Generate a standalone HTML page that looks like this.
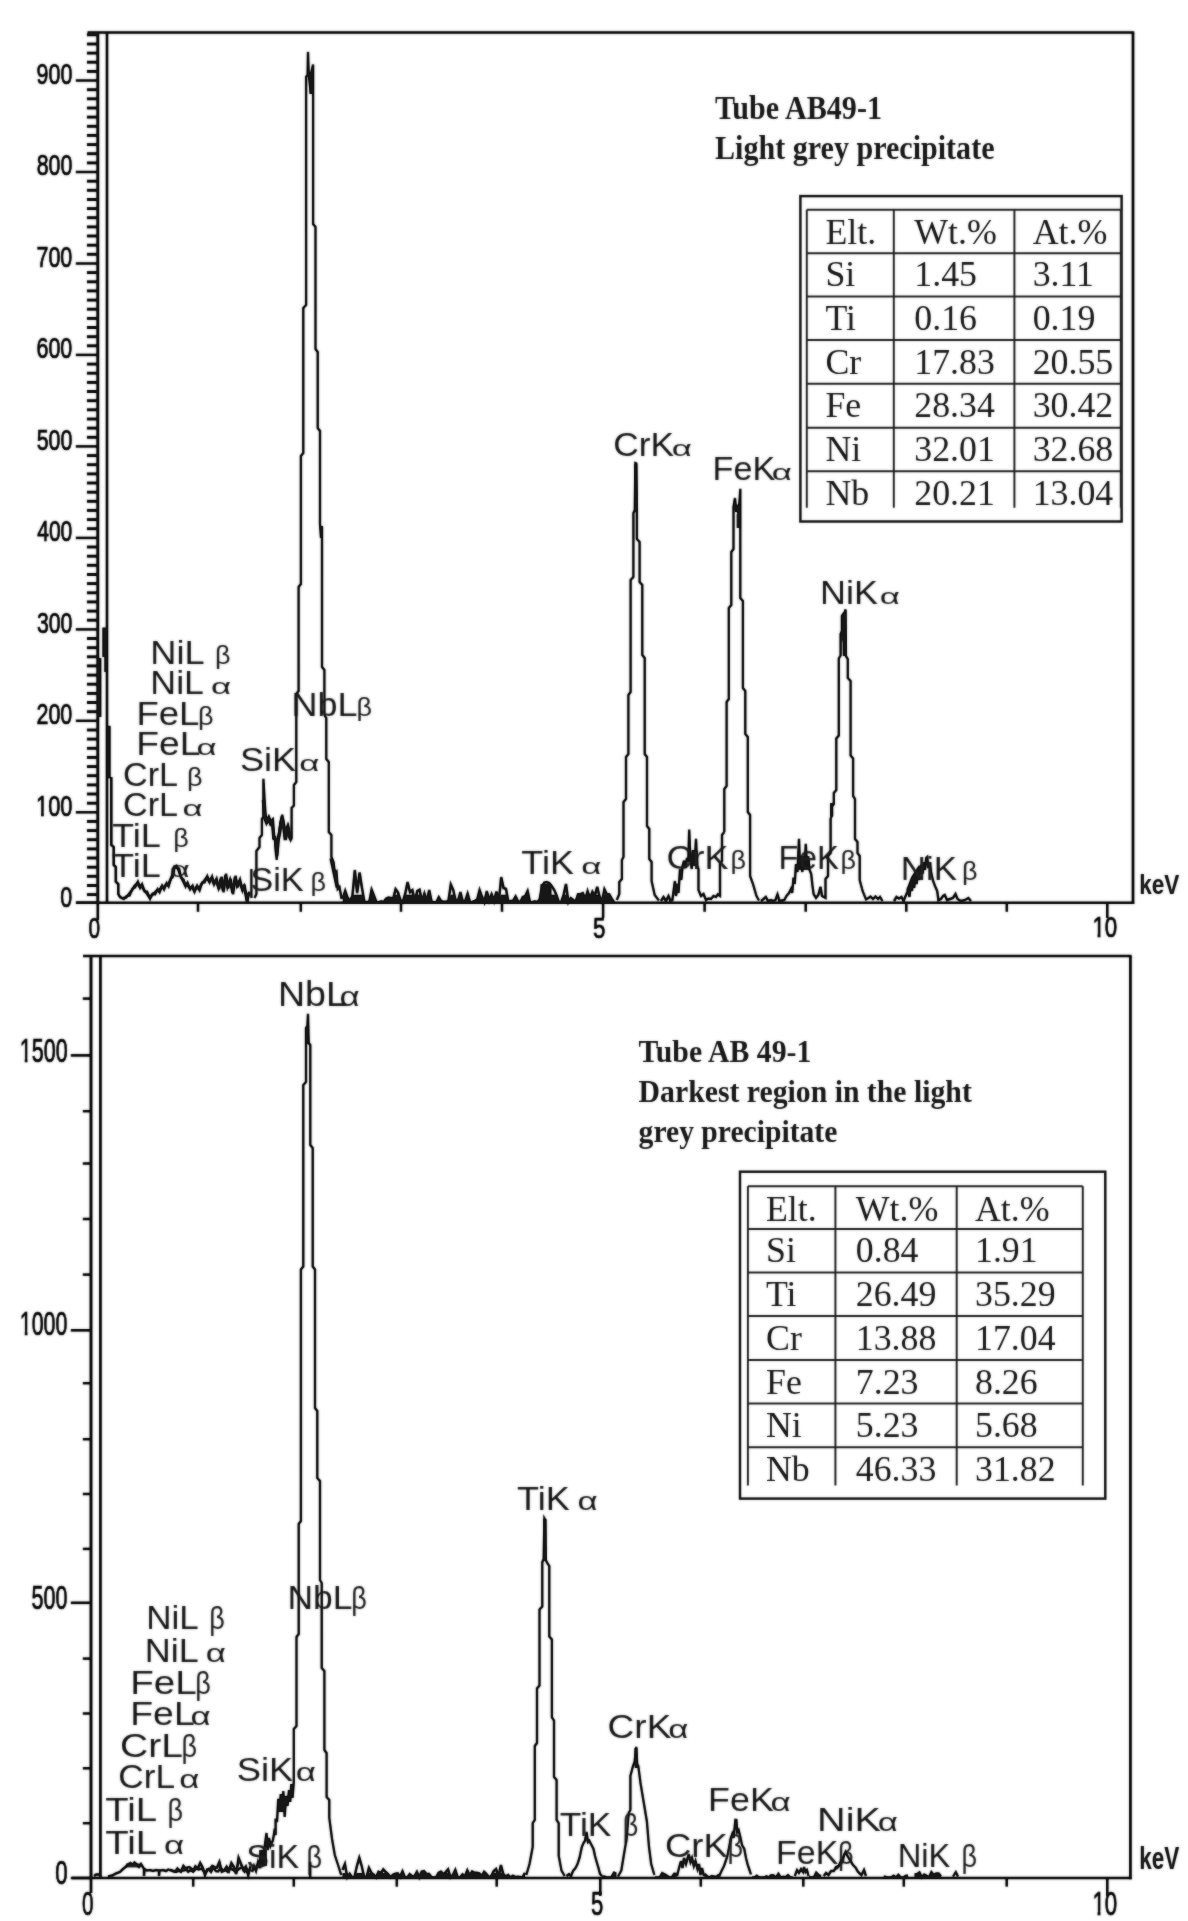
<!DOCTYPE html>
<html lang="en"><head><meta charset="utf-8"><title>EDS spectra - Tube AB49-1</title>
<style>
html,body{margin:0;padding:0;background:#fff;}
body{width:1188px;height:1921px;overflow:hidden;font-family:"Liberation Sans",sans-serif;}
svg{display:block;}
text{fill:#161616;}
.lb{fill:#1c1c1c;}
.ax{stroke:#161616;stroke-width:0.7px;}
.ax3{fill:#222;}
</style></head>
<body>
<svg width="1188" height="1921" viewBox="0 0 1188 1921">
<defs>
<filter id="soft" x="0" y="0" width="1188" height="1921" filterUnits="userSpaceOnUse"><feGaussianBlur stdDeviation="0.8" result="b"/><feComposite in="SourceGraphic" in2="b" operator="arithmetic" k1="0" k2="0.55" k3="0.6" k4="0"/></filter>
<filter id="soft2" x="0" y="0" width="1188" height="1921" filterUnits="userSpaceOnUse"><feGaussianBlur stdDeviation="0.8" result="b"/><feComposite in="SourceGraphic" in2="b" operator="arithmetic" k1="0" k2="0.6" k3="0.4" k4="0"/></filter>
<filter id="soft3" x="0" y="0" width="1188" height="1921" filterUnits="userSpaceOnUse"><feGaussianBlur stdDeviation="0.8" result="b"/><feComposite in="SourceGraphic" in2="b" operator="arithmetic" k1="0" k2="0.5" k3="0.55" k4="0"/></filter>
</defs>
<rect x="0" y="0" width="1188" height="1921" fill="#fff"/>
<g filter="url(#soft)">
<line x1="87.5" y1="32.5" x2="1134.2" y2="32.5" stroke="#141414" stroke-width="2.50"/>
<line x1="1133.0" y1="32.5" x2="1133.0" y2="903.9" stroke="#141414" stroke-width="2.70"/>
<line x1="76.0" y1="902.7" x2="1134.2" y2="902.7" stroke="#141414" stroke-width="2.40"/>
<line x1="97.8" y1="32.5" x2="97.8" y2="902.7" stroke="#141414" stroke-width="2.90"/>
<line x1="107.0" y1="32.5" x2="107.0" y2="902.7" stroke="#141414" stroke-width="2.60"/>
<line x1="75.8" y1="902.7" x2="97.8" y2="902.7" stroke="#141414" stroke-width="2.50"/>
<line x1="86.9" y1="894.6" x2="97.8" y2="894.6" stroke="#141414" stroke-width="2.90"/>
<line x1="86.9" y1="885.5" x2="97.8" y2="885.5" stroke="#141414" stroke-width="2.90"/>
<line x1="86.9" y1="876.3" x2="97.8" y2="876.3" stroke="#141414" stroke-width="2.90"/>
<line x1="86.9" y1="867.2" x2="97.8" y2="867.2" stroke="#141414" stroke-width="2.90"/>
<line x1="86.9" y1="858.0" x2="97.8" y2="858.0" stroke="#141414" stroke-width="2.90"/>
<line x1="86.9" y1="848.9" x2="97.8" y2="848.9" stroke="#141414" stroke-width="2.90"/>
<line x1="86.9" y1="839.7" x2="97.8" y2="839.7" stroke="#141414" stroke-width="2.90"/>
<line x1="86.9" y1="830.6" x2="97.8" y2="830.6" stroke="#141414" stroke-width="2.90"/>
<line x1="86.9" y1="821.4" x2="97.8" y2="821.4" stroke="#141414" stroke-width="2.90"/>
<line x1="75.8" y1="812.3" x2="97.8" y2="812.3" stroke="#141414" stroke-width="2.50"/>
<line x1="86.9" y1="803.2" x2="97.8" y2="803.2" stroke="#141414" stroke-width="2.90"/>
<line x1="86.9" y1="794.0" x2="97.8" y2="794.0" stroke="#141414" stroke-width="2.90"/>
<line x1="86.9" y1="784.9" x2="97.8" y2="784.9" stroke="#141414" stroke-width="2.90"/>
<line x1="86.9" y1="775.7" x2="97.8" y2="775.7" stroke="#141414" stroke-width="2.90"/>
<line x1="86.9" y1="766.6" x2="97.8" y2="766.6" stroke="#141414" stroke-width="2.90"/>
<line x1="86.9" y1="757.4" x2="97.8" y2="757.4" stroke="#141414" stroke-width="2.90"/>
<line x1="86.9" y1="748.3" x2="97.8" y2="748.3" stroke="#141414" stroke-width="2.90"/>
<line x1="86.9" y1="739.1" x2="97.8" y2="739.1" stroke="#141414" stroke-width="2.90"/>
<line x1="86.9" y1="730.0" x2="97.8" y2="730.0" stroke="#141414" stroke-width="2.90"/>
<line x1="75.8" y1="720.8" x2="97.8" y2="720.8" stroke="#141414" stroke-width="2.50"/>
<line x1="86.9" y1="711.7" x2="97.8" y2="711.7" stroke="#141414" stroke-width="2.90"/>
<line x1="86.9" y1="702.5" x2="97.8" y2="702.5" stroke="#141414" stroke-width="2.90"/>
<line x1="86.9" y1="693.4" x2="97.8" y2="693.4" stroke="#141414" stroke-width="2.90"/>
<line x1="86.9" y1="684.2" x2="97.8" y2="684.2" stroke="#141414" stroke-width="2.90"/>
<line x1="86.9" y1="675.1" x2="97.8" y2="675.1" stroke="#141414" stroke-width="2.90"/>
<line x1="86.9" y1="665.9" x2="97.8" y2="665.9" stroke="#141414" stroke-width="2.90"/>
<line x1="86.9" y1="656.8" x2="97.8" y2="656.8" stroke="#141414" stroke-width="2.90"/>
<line x1="86.9" y1="647.7" x2="97.8" y2="647.7" stroke="#141414" stroke-width="2.90"/>
<line x1="86.9" y1="638.5" x2="97.8" y2="638.5" stroke="#141414" stroke-width="2.90"/>
<line x1="75.8" y1="629.4" x2="97.8" y2="629.4" stroke="#141414" stroke-width="2.50"/>
<line x1="86.9" y1="620.2" x2="97.8" y2="620.2" stroke="#141414" stroke-width="2.90"/>
<line x1="86.9" y1="611.1" x2="97.8" y2="611.1" stroke="#141414" stroke-width="2.90"/>
<line x1="86.9" y1="601.9" x2="97.8" y2="601.9" stroke="#141414" stroke-width="2.90"/>
<line x1="86.9" y1="592.8" x2="97.8" y2="592.8" stroke="#141414" stroke-width="2.90"/>
<line x1="86.9" y1="583.6" x2="97.8" y2="583.6" stroke="#141414" stroke-width="2.90"/>
<line x1="86.9" y1="574.5" x2="97.8" y2="574.5" stroke="#141414" stroke-width="2.90"/>
<line x1="86.9" y1="565.3" x2="97.8" y2="565.3" stroke="#141414" stroke-width="2.90"/>
<line x1="86.9" y1="556.2" x2="97.8" y2="556.2" stroke="#141414" stroke-width="2.90"/>
<line x1="86.9" y1="547.0" x2="97.8" y2="547.0" stroke="#141414" stroke-width="2.90"/>
<line x1="75.8" y1="537.9" x2="97.8" y2="537.9" stroke="#141414" stroke-width="2.50"/>
<line x1="86.9" y1="528.7" x2="97.8" y2="528.7" stroke="#141414" stroke-width="2.90"/>
<line x1="86.9" y1="519.6" x2="97.8" y2="519.6" stroke="#141414" stroke-width="2.90"/>
<line x1="86.9" y1="510.4" x2="97.8" y2="510.4" stroke="#141414" stroke-width="2.90"/>
<line x1="86.9" y1="501.3" x2="97.8" y2="501.3" stroke="#141414" stroke-width="2.90"/>
<line x1="86.9" y1="492.2" x2="97.8" y2="492.2" stroke="#141414" stroke-width="2.90"/>
<line x1="86.9" y1="483.0" x2="97.8" y2="483.0" stroke="#141414" stroke-width="2.90"/>
<line x1="86.9" y1="473.9" x2="97.8" y2="473.9" stroke="#141414" stroke-width="2.90"/>
<line x1="86.9" y1="464.7" x2="97.8" y2="464.7" stroke="#141414" stroke-width="2.90"/>
<line x1="86.9" y1="455.6" x2="97.8" y2="455.6" stroke="#141414" stroke-width="2.90"/>
<line x1="75.8" y1="446.4" x2="97.8" y2="446.4" stroke="#141414" stroke-width="2.50"/>
<line x1="86.9" y1="437.3" x2="97.8" y2="437.3" stroke="#141414" stroke-width="2.90"/>
<line x1="86.9" y1="428.1" x2="97.8" y2="428.1" stroke="#141414" stroke-width="2.90"/>
<line x1="86.9" y1="419.0" x2="97.8" y2="419.0" stroke="#141414" stroke-width="2.90"/>
<line x1="86.9" y1="409.8" x2="97.8" y2="409.8" stroke="#141414" stroke-width="2.90"/>
<line x1="86.9" y1="400.7" x2="97.8" y2="400.7" stroke="#141414" stroke-width="2.90"/>
<line x1="86.9" y1="391.5" x2="97.8" y2="391.5" stroke="#141414" stroke-width="2.90"/>
<line x1="86.9" y1="382.4" x2="97.8" y2="382.4" stroke="#141414" stroke-width="2.90"/>
<line x1="86.9" y1="373.2" x2="97.8" y2="373.2" stroke="#141414" stroke-width="2.90"/>
<line x1="86.9" y1="364.1" x2="97.8" y2="364.1" stroke="#141414" stroke-width="2.90"/>
<line x1="75.8" y1="354.9" x2="97.8" y2="354.9" stroke="#141414" stroke-width="2.50"/>
<line x1="86.9" y1="345.8" x2="97.8" y2="345.8" stroke="#141414" stroke-width="2.90"/>
<line x1="86.9" y1="336.7" x2="97.8" y2="336.7" stroke="#141414" stroke-width="2.90"/>
<line x1="86.9" y1="327.5" x2="97.8" y2="327.5" stroke="#141414" stroke-width="2.90"/>
<line x1="86.9" y1="318.4" x2="97.8" y2="318.4" stroke="#141414" stroke-width="2.90"/>
<line x1="86.9" y1="309.2" x2="97.8" y2="309.2" stroke="#141414" stroke-width="2.90"/>
<line x1="86.9" y1="300.1" x2="97.8" y2="300.1" stroke="#141414" stroke-width="2.90"/>
<line x1="86.9" y1="290.9" x2="97.8" y2="290.9" stroke="#141414" stroke-width="2.90"/>
<line x1="86.9" y1="281.8" x2="97.8" y2="281.8" stroke="#141414" stroke-width="2.90"/>
<line x1="86.9" y1="272.6" x2="97.8" y2="272.6" stroke="#141414" stroke-width="2.90"/>
<line x1="75.8" y1="263.5" x2="97.8" y2="263.5" stroke="#141414" stroke-width="2.50"/>
<line x1="86.9" y1="254.3" x2="97.8" y2="254.3" stroke="#141414" stroke-width="2.90"/>
<line x1="86.9" y1="245.2" x2="97.8" y2="245.2" stroke="#141414" stroke-width="2.90"/>
<line x1="86.9" y1="236.0" x2="97.8" y2="236.0" stroke="#141414" stroke-width="2.90"/>
<line x1="86.9" y1="226.9" x2="97.8" y2="226.9" stroke="#141414" stroke-width="2.90"/>
<line x1="86.9" y1="217.7" x2="97.8" y2="217.7" stroke="#141414" stroke-width="2.90"/>
<line x1="86.9" y1="208.6" x2="97.8" y2="208.6" stroke="#141414" stroke-width="2.90"/>
<line x1="86.9" y1="199.5" x2="97.8" y2="199.5" stroke="#141414" stroke-width="2.90"/>
<line x1="86.9" y1="190.3" x2="97.8" y2="190.3" stroke="#141414" stroke-width="2.90"/>
<line x1="86.9" y1="181.2" x2="97.8" y2="181.2" stroke="#141414" stroke-width="2.90"/>
<line x1="75.8" y1="172.0" x2="97.8" y2="172.0" stroke="#141414" stroke-width="2.50"/>
<line x1="86.9" y1="162.9" x2="97.8" y2="162.9" stroke="#141414" stroke-width="2.90"/>
<line x1="86.9" y1="153.7" x2="97.8" y2="153.7" stroke="#141414" stroke-width="2.90"/>
<line x1="86.9" y1="144.6" x2="97.8" y2="144.6" stroke="#141414" stroke-width="2.90"/>
<line x1="86.9" y1="135.4" x2="97.8" y2="135.4" stroke="#141414" stroke-width="2.90"/>
<line x1="86.9" y1="126.3" x2="97.8" y2="126.3" stroke="#141414" stroke-width="2.90"/>
<line x1="86.9" y1="117.1" x2="97.8" y2="117.1" stroke="#141414" stroke-width="2.90"/>
<line x1="86.9" y1="108.0" x2="97.8" y2="108.0" stroke="#141414" stroke-width="2.90"/>
<line x1="86.9" y1="98.8" x2="97.8" y2="98.8" stroke="#141414" stroke-width="2.90"/>
<line x1="86.9" y1="89.7" x2="97.8" y2="89.7" stroke="#141414" stroke-width="2.90"/>
<line x1="75.8" y1="80.5" x2="97.8" y2="80.5" stroke="#141414" stroke-width="2.50"/>
<line x1="86.9" y1="71.4" x2="97.8" y2="71.4" stroke="#141414" stroke-width="2.90"/>
<line x1="86.9" y1="62.2" x2="97.8" y2="62.2" stroke="#141414" stroke-width="2.90"/>
<line x1="86.9" y1="53.1" x2="97.8" y2="53.1" stroke="#141414" stroke-width="2.90"/>
<line x1="86.9" y1="44.0" x2="97.8" y2="44.0" stroke="#141414" stroke-width="2.90"/>
<line x1="86.9" y1="34.8" x2="97.8" y2="34.8" stroke="#141414" stroke-width="2.90"/>
<text x="60.2" y="906.6" font-family="Liberation Sans" font-size="29.2" font-weight="normal" text-anchor="start" textLength="11.9" lengthAdjust="spacingAndGlyphs" class="ax">0</text>
<clipPath id="c1"><rect x="32.96" y="786.40" width="42.37" height="25.58"/><rect x="41.02" y="811.48" width="2.75" height="6.62"/><rect x="47.89" y="811.48" width="28.25" height="7.62"/></clipPath>
<text x="36.0" y="815.6" font-family="Liberation Sans" font-size="29.2" font-weight="normal" text-anchor="start" textLength="36.4" lengthAdjust="spacingAndGlyphs" class="ax" clip-path="url(#c1)">100</text>
<text x="36.5" y="724.1" font-family="Liberation Sans" font-size="29.2" font-weight="normal" text-anchor="start" textLength="35.8" lengthAdjust="spacingAndGlyphs" class="ax">200</text>
<text x="36.9" y="632.7" font-family="Liberation Sans" font-size="29.2" font-weight="normal" text-anchor="start" textLength="35.5" lengthAdjust="spacingAndGlyphs" class="ax">300</text>
<text x="37.2" y="541.2" font-family="Liberation Sans" font-size="29.2" font-weight="normal" text-anchor="start" textLength="35.1" lengthAdjust="spacingAndGlyphs" class="ax">400</text>
<text x="36.7" y="449.7" font-family="Liberation Sans" font-size="29.2" font-weight="normal" text-anchor="start" textLength="35.6" lengthAdjust="spacingAndGlyphs" class="ax">500</text>
<text x="36.5" y="358.2" font-family="Liberation Sans" font-size="29.2" font-weight="normal" text-anchor="start" textLength="35.8" lengthAdjust="spacingAndGlyphs" class="ax">600</text>
<text x="36.5" y="266.8" font-family="Liberation Sans" font-size="29.2" font-weight="normal" text-anchor="start" textLength="35.8" lengthAdjust="spacingAndGlyphs" class="ax">700</text>
<text x="36.7" y="175.3" font-family="Liberation Sans" font-size="29.2" font-weight="normal" text-anchor="start" textLength="35.6" lengthAdjust="spacingAndGlyphs" class="ax">800</text>
<text x="36.6" y="83.8" font-family="Liberation Sans" font-size="29.2" font-weight="normal" text-anchor="start" textLength="35.7" lengthAdjust="spacingAndGlyphs" class="ax">900</text>
<line x1="97.8" y1="902.7" x2="97.8" y2="920.0" stroke="#141414" stroke-width="2.60"/>
<line x1="198.0" y1="902.7" x2="198.0" y2="911.8" stroke="#141414" stroke-width="2.50"/>
<line x1="300.8" y1="902.7" x2="300.8" y2="911.8" stroke="#141414" stroke-width="2.50"/>
<line x1="401.0" y1="902.7" x2="401.0" y2="911.8" stroke="#141414" stroke-width="2.50"/>
<line x1="502.0" y1="902.7" x2="502.0" y2="911.8" stroke="#141414" stroke-width="2.50"/>
<line x1="603.1" y1="902.7" x2="603.1" y2="918.0" stroke="#141414" stroke-width="2.50"/>
<line x1="704.6" y1="902.7" x2="704.6" y2="911.8" stroke="#141414" stroke-width="2.50"/>
<line x1="805.7" y1="902.7" x2="805.7" y2="911.8" stroke="#141414" stroke-width="2.50"/>
<line x1="906.3" y1="902.7" x2="906.3" y2="911.8" stroke="#141414" stroke-width="2.50"/>
<line x1="1006.8" y1="902.7" x2="1006.8" y2="911.8" stroke="#141414" stroke-width="2.50"/>
<line x1="1107.3" y1="902.7" x2="1107.3" y2="918.0" stroke="#141414" stroke-width="2.50"/>
<text x="88.6" y="937.6" font-family="Liberation Sans" font-size="29.2" font-weight="normal" text-anchor="start" textLength="11.6" lengthAdjust="spacingAndGlyphs" class="ax">0</text>
<text x="593.1" y="937.7" font-family="Liberation Sans" font-size="29.2" font-weight="normal" text-anchor="start" textLength="12.4" lengthAdjust="spacingAndGlyphs" class="ax">5</text>
<clipPath id="c2"><rect x="1089.43" y="908.10" width="30.81" height="25.58"/><rect x="1097.60" y="933.18" width="2.81" height="6.62"/><rect x="1104.63" y="933.18" width="16.41" height="7.62"/></clipPath>
<text x="1092.4" y="937.3" font-family="Liberation Sans" font-size="29.2" font-weight="normal" text-anchor="start" textLength="24.8" lengthAdjust="spacingAndGlyphs" class="ax" clip-path="url(#c2)">10</text>
<text x="1139.3" y="894.2" font-family="Liberation Sans" font-size="28.5" font-weight="bold" text-anchor="start" textLength="40.1" lengthAdjust="spacingAndGlyphs" class="ax3">keV</text>
<polyline points="99.9,717.0 99.9,658.0" fill="none" stroke="#141414" stroke-width="3.0" stroke-linejoin="miter" stroke-linecap="butt"/>
<rect x="102.3" y="627.5" width="3.6" height="29.5" fill="#141414"/>
<polyline points="105.3,655.0 105.3,672.0" fill="none" stroke="#141414" stroke-width="2.1" stroke-linejoin="miter" stroke-linecap="butt"/>
<polyline points="109.2,725.8 109.2,778.3" fill="none" stroke="#141414" stroke-width="3.0" stroke-linejoin="miter" stroke-linecap="butt"/>
<polyline points="111.3,777.0 111.3,845.0 113.7,847.0 113.7,865.0 115.8,867.0 115.8,881.7 118.3,884.0 118.3,894.0 120.0,897.0 122.5,898.3 126.0,897.5 129.0,894.0 132.0,890.0 134.5,886.0 137.3,883.0 139.5,886.5 141.5,885.5 144.0,890.0 146.5,893.0 149.5,897.5 152.0,895.0 154.5,893.0 157.0,890.5 159.0,891.0 161.5,887.0 163.5,888.0 166.0,884.5 168.0,885.0 170.3,880.0 172.0,876.0 174.0,868.0 176.4,866.0 178.5,870.0 180.5,876.0 183.0,881.0 185.0,885.0 187.0,884.0 189.5,888.0 192.0,887.0 194.0,890.5 196.5,887.0 199.0,889.0 201.5,884.0 204.0,881.0 206.7,877.5 209.0,881.0 211.5,878.0 213.5,883.0 216.0,880.0 218.5,888.0 221.0,878.0 223.0,891.0 225.5,875.0 227.5,887.0 230.0,880.0 232.5,893.0 235.0,877.0 237.0,886.0 239.5,881.0 242.0,889.0 244.0,886.0 246.8,901.0 248.5,893.0" fill="none" stroke="#141414" stroke-width="2.5999999999999996" stroke-linejoin="miter" stroke-linecap="butt"/>
<polyline points="123.1,899.7 126.6,896.1 129.6,895.4 132.6,888.6 135.1,887.4 137.9,881.6 140.1,887.9 142.1,884.1 144.6,891.4 147.1,891.6 150.1,898.9 152.6,893.6 155.1,894.4 157.6,889.1 159.6,892.4 162.1,885.6 164.1,889.4 166.6,883.1 168.6,886.4 170.9,878.6 172.6,877.4 174.6,866.6 177.0,867.4 179.1,868.6 181.1,877.4 183.6,879.6 185.6,886.4 187.6,882.6 190.1,889.4 192.6,885.6 194.6,891.9 197.1,885.6 199.6,890.4 202.1,882.6 204.6,882.4 207.3,876.1 209.6,882.4 212.1,876.6 214.1,884.4 216.6,878.6 219.1,889.4 221.6,876.6 223.6,892.4 226.1,873.6 228.1,888.4 230.6,878.6 233.1,894.4 235.6,875.6 237.6,887.4 240.1,879.6 242.6,890.4 244.6,884.6 247.4,902.4 249.1,891.6" fill="none" stroke="#141414" stroke-width="2.3" stroke-linejoin="miter" stroke-linecap="butt"/>
<line x1="251.4" y1="869.0" x2="251.4" y2="898.0" stroke="#141414" stroke-width="2.30"/>
<polyline points="254.5,898.0 256.4,894.0 256.4,851.0 259.5,847.0 259.5,838.0 261.9,835.0 261.9,819.0 263.4,817.0 263.4,778.8 264.6,800.0 265.8,817.5 267.5,821.0 269.0,817.0 271.0,822.0 272.5,820.0 273.6,839.7 275.0,836.0 276.7,860.0 278.0,838.0 279.2,832.0 280.6,822.0 282.2,814.7 283.6,824.0 285.3,838.0 286.5,829.0 287.7,825.6 289.3,834.0 290.8,839.7 291.6,838.0 291.6,808.0 293.9,805.5 293.9,785.0 296.3,782.0 296.3,694.0 298.6,691.0 298.6,587.0 300.9,584.0 300.9,456.0 303.3,453.0 303.3,308.0 306.1,305.0 306.1,77.0 307.6,75.0 308.0,51.9 308.6,72.0 310.8,94.0 311.5,72.0 313.1,64.4 313.1,224.0 315.5,227.0 315.5,349.0 317.7,352.0 317.7,428.0 320.0,431.0 320.0,524.0 321.0,538.0 322.0,526.0 322.0,667.0 324.4,670.0 324.4,715.0 326.3,718.0 326.3,759.0 328.8,762.0 328.8,832.0 331.4,835.0 331.4,857.0 333.5,862.0 335.0,874.0 336.5,872.0 337.7,889.0 339.5,887.0 341.6,899.0" fill="none" stroke="#141414" stroke-width="2.35" stroke-linejoin="miter" stroke-linecap="butt"/>
<rect x="309.6" y="72" width="2.6" height="22" fill="#141414"/>
<polyline points="263.4,800.0 264.8,818.0 266.5,822.5 268.5,818.5 270.5,823.5 272.5,821.0 273.8,838.0 275.5,840.0 276.7,856.0 278.2,840.0 279.4,834.0 280.8,824.0 282.2,817.0 283.8,826.0 285.3,840.0 286.7,831.0 288.0,828.0 289.5,836.0 290.8,840.0" fill="none" stroke="#141414" stroke-width="3.4" stroke-linejoin="miter" stroke-linecap="butt"/>
<rect x="332.5" y="858" width="3.5" height="30" fill="#141414" transform="rotate(-12 334 873)"/>
<polyline points="342.8,898.5 345.2,890.7 347.6,897.8 350.0,901.3 352.4,896.0 354.8,870.0 357.2,893.0 359.6,872.5 362.0,888.0 364.4,901.9 366.8,901.9 369.2,902.2 371.6,889.6 374.0,895.6 376.4,902.2 378.8,902.2 381.2,901.3 383.6,902.2 386.0,898.7 388.4,897.6 390.8,897.9 393.2,898.5 395.6,889.2 398.0,892.4 400.4,900.1 402.8,902.2 405.2,893.7 407.6,882.0 410.0,892.2 412.4,890.1 414.8,902.2 417.2,891.0 419.6,889.6 422.0,902.0 424.4,893.5 426.8,901.9 429.2,889.9 431.6,901.8 434.0,902.2 436.4,902.2 438.8,897.1 441.2,901.3 443.6,901.7 446.0,901.8 448.4,901.1 450.8,884.5 453.2,889.8 455.6,900.3 458.0,901.1 460.4,892.1 462.8,901.9 465.2,901.1 467.6,893.6 470.0,902.2 472.4,901.9 474.8,900.8 477.2,899.5 479.6,890.0 482.0,896.8 484.4,902.2 486.8,891.1 489.2,900.8 491.6,894.2 494.0,901.2 496.4,891.6 498.8,902.2 501.2,877.0 503.6,888.0 506.0,889.0 508.4,902.1 510.8,900.9 513.2,900.7 515.6,896.5 518.0,901.4 520.4,902.0 522.8,897.1 525.2,896.2 527.6,890.9 530.0,902.2 532.4,902.2 534.8,901.4 537.2,902.2 539.6,899.6 542.0,886.0 544.4,882.6 546.8,882.0 549.2,883.0 551.6,886.0 554.0,889.6 556.4,895.0 558.8,902.2 561.2,902.2 563.6,894.8 566.0,884.0 568.4,902.2 570.8,898.2 573.2,900.1 575.6,902.0 578.0,894.2 580.4,894.2 582.8,893.2 585.2,899.8 587.6,891.2 590.0,899.0 592.4,891.9 594.8,896.1 597.2,886.8 599.6,896.7 602.0,902.0 604.4,889.3 606.8,894.4 609.2,894.3 611.6,898.7 614.0,902.0" fill="none" stroke="#141414" stroke-width="2.5" stroke-linejoin="miter" stroke-linecap="butt"/>
<polygon points="342.8,902.7 342.8,898.5 345.2,894.7 347.6,897.8 350.0,901.3 352.4,896.0 354.8,894.7 357.2,894.7 359.6,894.7 362.0,894.7 364.4,901.9 366.8,901.9 369.2,902.2 371.6,894.7 374.0,895.6 376.4,902.2 378.8,902.2 381.2,901.3 383.6,902.2 386.0,898.7 388.4,897.6 390.8,897.9 393.2,898.5 395.6,894.7 398.0,894.7 400.4,900.1 402.8,902.2 405.2,894.7 407.6,894.7 410.0,894.7 412.4,894.7 414.8,902.2 417.2,894.7 419.6,894.7 422.0,902.0 424.4,894.7 426.8,901.9 429.2,894.7 431.6,901.8 434.0,902.2 436.4,902.2 438.8,897.1 441.2,901.3 443.6,901.7 446.0,901.8 448.4,901.1 450.8,894.7 453.2,894.7 455.6,900.3 458.0,901.1 460.4,894.7 462.8,901.9 465.2,901.1 467.6,894.7 470.0,902.2 472.4,901.9 474.8,900.8 477.2,899.5 479.6,894.7 482.0,896.8 484.4,902.2 486.8,894.7 489.2,900.8 491.6,894.7 494.0,901.2 496.4,894.7 498.8,902.2 501.2,894.7 503.6,894.7 506.0,894.7 508.4,902.1 510.8,900.9 513.2,900.7 515.6,896.5 518.0,901.4 520.4,902.0 522.8,897.1 525.2,896.2 527.6,894.7 530.0,902.2 532.4,902.2 534.8,901.4 537.2,902.2 539.6,899.6 542.0,894.7 544.4,894.7 546.8,894.7 549.2,894.7 551.6,894.7 554.0,894.7 556.4,895.0 558.8,902.2 561.2,902.2 563.6,894.8 566.0,894.7 568.4,902.2 570.8,898.2 573.2,900.1 575.6,902.0 578.0,894.7 580.4,894.7 582.8,894.7 585.2,899.8 587.6,894.7 590.0,899.0 592.4,894.7 594.8,896.1 597.2,894.7 599.6,896.7 602.0,902.0 604.4,894.7 606.8,894.7 609.2,894.7 611.6,898.7 614.0,902.0 614.0,902.7" fill="#141414"/>
<rect x="540.5" y="884" width="11" height="17" fill="#141414"/>
<polyline points="616.8,900.0 619.3,894.0 619.3,882.0 621.9,879.0 621.9,860.0 623.5,857.0 623.5,802.0 626.0,799.0 626.0,757.0 628.4,754.0 628.4,695.0 630.6,692.0 630.6,580.0 633.4,577.0 633.4,513.0 634.8,510.0 635.4,463.1 636.3,463.5 636.9,510.0 636.9,539.0 639.6,542.0 639.6,582.0 642.3,585.0 642.3,655.0 644.7,658.0 644.7,754.0 647.0,757.0 647.0,826.0 649.3,829.0 649.3,859.0 651.6,862.0 651.6,881.0 654.7,895.0 658.9,900.5" fill="none" stroke="#141414" stroke-width="2.35" stroke-linejoin="miter" stroke-linecap="butt"/>
<polyline points="635.8,464.0 635.8,512.0" fill="none" stroke="#141414" stroke-width="3.0" stroke-linejoin="miter" stroke-linecap="butt"/>
<polyline points="661.0,901.0 663.5,897.0 666.0,901.0 668.5,896.0 670.5,901.0 672.4,900.0 674.9,881.0 676.0,896.0 677.5,884.0 678.5,893.0 680.0,869.0 681.3,880.0 682.6,866.0 684.1,860.7 685.5,868.0 687.0,858.0 688.3,862.0 689.2,829.6 690.3,858.0 691.7,869.0 693.0,850.0 694.5,866.0 696.0,838.8 697.2,866.0 698.5,869.0 698.5,890.0 701.0,896.0 703.5,894.0 706.0,900.0 708.5,898.5 711.0,899.0 713.5,896.0 716.0,897.0 717.8,894.4 720.0,896.0 720.0,864.0 722.0,861.0 722.0,835.0 724.3,832.0" fill="none" stroke="#141414" stroke-width="2.4" stroke-linejoin="miter" stroke-linecap="butt"/>
<polyline points="724.3,832.0 724.3,789.0 726.6,786.0 726.6,702.0 728.8,699.0 728.8,608.0 731.3,605.0 731.3,552.0 733.5,549.0 733.5,507.0 735.0,498.0 736.2,512.0 737.3,505.0 738.5,514.0 739.6,500.0 740.3,488.8 740.3,598.0 742.9,601.0 742.9,688.0 745.3,691.0 745.3,734.0 747.8,737.0 747.8,812.0 750.1,815.0 750.1,876.0 753.1,884.3 756.5,896.0 759.0,900.5" fill="none" stroke="#141414" stroke-width="2.35" stroke-linejoin="miter" stroke-linecap="butt"/>
<rect x="736.6" y="514" width="4.2" height="14" fill="#141414" opacity="0.9"/>
<polyline points="761.0,901.0 763.5,899.0 765.8,896.9 768.0,901.0 771.0,900.0 773.5,901.0 775.5,900.0 777.5,894.4 779.5,901.0 782.0,900.5 784.3,900.0 786.5,896.0 789.0,893.0 791.0,889.0 792.2,893.0 793.5,877.5 794.7,884.0 796.0,864.0 797.5,872.0 799.0,838.8 800.0,866.0 801.0,860.7 802.3,872.0 803.5,856.0 804.6,868.0 805.8,843.9 807.0,868.0 808.3,858.0 809.6,870.0 811.2,874.0 812.5,886.0 813.7,894.4 816.0,898.0 818.3,895.0 820.5,886.8 822.0,896.0 823.8,897.0 825.5,898.0 825.5,879.0 828.0,876.0 828.0,856.0 830.6,853.0 830.6,818.0" fill="none" stroke="#141414" stroke-width="2.4" stroke-linejoin="miter" stroke-linecap="butt"/>
<rect x="799" y="856" width="10.5" height="14" fill="#141414" opacity="0.85"/>
<polyline points="830.6,818.0 831.9,816.0 831.9,806.5 833.8,804.0 833.8,793.0 836.3,790.0 836.3,738.5 838.8,735.5 838.8,658.5 840.6,655.5 840.6,634.0 841.9,631.0 841.9,616.0 844.8,612.0 845.6,609.4 845.9,656.0 847.8,659.0 847.8,678.0 850.6,681.0 850.6,755.5 853.1,758.5 853.1,796.0 855.0,799.0 855.0,839.0 857.5,842.0 857.5,853.0 859.7,856.0 859.7,880.0 862.6,891.0 866.0,899.4 868.5,898.0 870.5,896.5 873.0,899.0 875.5,896.5 878.0,899.0 880.0,897.0 882.5,901.0" fill="none" stroke="#141414" stroke-width="2.35" stroke-linejoin="miter" stroke-linecap="butt"/>
<polygon points="841.3,632 842.2,615 845.6,609.4 846.3,656 842.8,656 842.6,643" fill="#141414"/>
<rect x="830" y="803" width="3.2" height="13" fill="#141414"/>
<polyline points="894.0,901.0 896.5,897.0 899.0,898.5 901.5,897.0 903.6,901.0 906.0,895.0 908.3,890.0 909.5,897.0 910.7,884.0 912.0,891.0 913.0,877.0 914.2,888.0 915.4,874.0 916.6,884.0 917.7,873.6 919.0,880.0 920.2,868.0 921.3,865.0 922.5,874.0 923.7,862.0 925.0,870.0 926.2,858.0 927.2,857.0 928.4,868.0 929.6,863.0 931.0,872.0 933.0,880.7 935.0,886.0 937.2,891.0 938.4,900.0 941.0,899.0 943.0,896.0 944.8,895.0 947.0,900.0 950.0,899.0 953.0,898.0 955.5,894.0 957.5,899.0 961.0,901.0 965.0,900.0 968.4,898.0 971.0,901.0" fill="none" stroke="#141414" stroke-width="2.4" stroke-linejoin="miter" stroke-linecap="butt"/>
<polyline points="908.0,891.0 913.0,878.0 920.5,866.5" fill="none" stroke="#141414" stroke-width="4.2" stroke-linejoin="miter" stroke-linecap="butt"/>
</g><g filter="url(#soft3)">
<text x="150.3" y="663.8" font-family="Liberation Sans" font-size="32.5" font-weight="normal" text-anchor="start" textLength="54.3" lengthAdjust="spacingAndGlyphs" class="lb">NiL</text>
<text x="215.0" y="663.8" font-family="Liberation Sans" font-size="26.5" font-weight="normal" text-anchor="start" textLength="15.5" lengthAdjust="spacingAndGlyphs" class="lb">β</text>
<text x="150.3" y="694.3" font-family="Liberation Sans" font-size="32.5" font-weight="normal" text-anchor="start" textLength="53.7" lengthAdjust="spacingAndGlyphs" class="lb">NiL</text>
<text x="211.0" y="694.3" font-family="Liberation Sans" font-size="22.0" font-weight="normal" text-anchor="start" textLength="20.2" lengthAdjust="spacingAndGlyphs" class="lb">α</text>
<text x="136.4" y="725.3" font-family="Liberation Sans" font-size="32.5" font-weight="normal" text-anchor="start" textLength="63.0" lengthAdjust="spacingAndGlyphs" class="lb">FeL</text>
<text x="198.0" y="725.3" font-family="Liberation Sans" font-size="26.5" font-weight="normal" text-anchor="start" textLength="15.5" lengthAdjust="spacingAndGlyphs" class="lb">β</text>
<text x="136.3" y="755.1" font-family="Liberation Sans" font-size="32.5" font-weight="normal" text-anchor="start" textLength="64.2" lengthAdjust="spacingAndGlyphs" class="lb">FeL</text>
<text x="196.4" y="755.1" font-family="Liberation Sans" font-size="22.0" font-weight="normal" text-anchor="start" textLength="20.2" lengthAdjust="spacingAndGlyphs" class="lb">α</text>
<text x="123.0" y="785.9" font-family="Liberation Sans" font-size="32.5" font-weight="normal" text-anchor="start" textLength="55.1" lengthAdjust="spacingAndGlyphs" class="lb">CrL</text>
<text x="187.1" y="785.9" font-family="Liberation Sans" font-size="26.5" font-weight="normal" text-anchor="start" textLength="15.5" lengthAdjust="spacingAndGlyphs" class="lb">β</text>
<text x="123.0" y="815.7" font-family="Liberation Sans" font-size="32.5" font-weight="normal" text-anchor="start" textLength="55.1" lengthAdjust="spacingAndGlyphs" class="lb">CrL</text>
<text x="182.5" y="815.7" font-family="Liberation Sans" font-size="22.0" font-weight="normal" text-anchor="start" textLength="20.2" lengthAdjust="spacingAndGlyphs" class="lb">α</text>
<text x="112.1" y="846.5" font-family="Liberation Sans" font-size="32.5" font-weight="normal" text-anchor="start" textLength="48.8" lengthAdjust="spacingAndGlyphs" class="lb">TiL</text>
<text x="173.2" y="846.5" font-family="Liberation Sans" font-size="26.5" font-weight="normal" text-anchor="start" textLength="15.5" lengthAdjust="spacingAndGlyphs" class="lb">β</text>
<text x="112.1" y="876.9" font-family="Liberation Sans" font-size="32.5" font-weight="normal" text-anchor="start" textLength="48.8" lengthAdjust="spacingAndGlyphs" class="lb">TiL</text>
<text x="169.8" y="876.9" font-family="Liberation Sans" font-size="22.0" font-weight="normal" text-anchor="start" textLength="20.2" lengthAdjust="spacingAndGlyphs" class="lb">α</text>
<text x="239.9" y="771.0" font-family="Liberation Sans" font-size="32.5" font-weight="normal" text-anchor="start" textLength="56.3" lengthAdjust="spacingAndGlyphs" class="lb">SiK</text>
<text x="299.2" y="771.0" font-family="Liberation Sans" font-size="22.0" font-weight="normal" text-anchor="start" textLength="20.2" lengthAdjust="spacingAndGlyphs" class="lb">α</text>
<text x="250.2" y="890.9" font-family="Liberation Sans" font-size="32.5" font-weight="normal" text-anchor="start" textLength="53.6" lengthAdjust="spacingAndGlyphs" class="lb">SiK</text>
<text x="310.6" y="890.9" font-family="Liberation Sans" font-size="26.5" font-weight="normal" text-anchor="start" textLength="15.5" lengthAdjust="spacingAndGlyphs" class="lb">β</text>
<text x="291.6" y="716.0" font-family="Liberation Sans" font-size="32.5" font-weight="normal" text-anchor="start" textLength="66.0" lengthAdjust="spacingAndGlyphs" class="lb">NbL</text>
<text x="356.4" y="716.0" font-family="Liberation Sans" font-size="26.5" font-weight="normal" text-anchor="start" textLength="15.5" lengthAdjust="spacingAndGlyphs" class="lb">β</text>
<text x="521.3" y="874.1" font-family="Liberation Sans" font-size="32.5" font-weight="normal" text-anchor="start" textLength="52.6" lengthAdjust="spacingAndGlyphs" class="lb">TiK</text>
<text x="581.2" y="874.1" font-family="Liberation Sans" font-size="22.0" font-weight="normal" text-anchor="start" textLength="20.2" lengthAdjust="spacingAndGlyphs" class="lb">α</text>
<text x="613.3" y="455.5" font-family="Liberation Sans" font-size="32.5" font-weight="normal" text-anchor="start" textLength="60.9" lengthAdjust="spacingAndGlyphs" class="lb">CrK</text>
<text x="671.7" y="455.5" font-family="Liberation Sans" font-size="22.0" font-weight="normal" text-anchor="start" textLength="20.2" lengthAdjust="spacingAndGlyphs" class="lb">α</text>
<text x="712.6" y="480.1" font-family="Liberation Sans" font-size="32.5" font-weight="normal" text-anchor="start" textLength="62.7" lengthAdjust="spacingAndGlyphs" class="lb">FeK</text>
<text x="771.8" y="480.1" font-family="Liberation Sans" font-size="22.0" font-weight="normal" text-anchor="start" textLength="20.2" lengthAdjust="spacingAndGlyphs" class="lb">α</text>
<text x="820.1" y="604.3" font-family="Liberation Sans" font-size="32.5" font-weight="normal" text-anchor="start" textLength="57.9" lengthAdjust="spacingAndGlyphs" class="lb">NiK</text>
<text x="879.8" y="604.3" font-family="Liberation Sans" font-size="22.0" font-weight="normal" text-anchor="start" textLength="20.2" lengthAdjust="spacingAndGlyphs" class="lb">α</text>
<text x="666.4" y="868.5" font-family="Liberation Sans" font-size="32.5" font-weight="normal" text-anchor="start" textLength="62.1" lengthAdjust="spacingAndGlyphs" class="lb">CrK</text>
<text x="730.4" y="868.5" font-family="Liberation Sans" font-size="26.5" font-weight="normal" text-anchor="start" textLength="15.5" lengthAdjust="spacingAndGlyphs" class="lb">β</text>
<text x="778.6" y="868.5" font-family="Liberation Sans" font-size="32.5" font-weight="normal" text-anchor="start" textLength="60.5" lengthAdjust="spacingAndGlyphs" class="lb">FeK</text>
<text x="840.4" y="868.5" font-family="Liberation Sans" font-size="26.5" font-weight="normal" text-anchor="start" textLength="15.5" lengthAdjust="spacingAndGlyphs" class="lb">β</text>
<text x="900.8" y="879.7" font-family="Liberation Sans" font-size="32.5" font-weight="normal" text-anchor="start" textLength="56.4" lengthAdjust="spacingAndGlyphs" class="lb">NiK</text>
<text x="962.0" y="879.7" font-family="Liberation Sans" font-size="26.5" font-weight="normal" text-anchor="start" textLength="15.5" lengthAdjust="spacingAndGlyphs" class="lb">β</text>
</g><g filter="url(#soft2)">
<text x="715.0" y="119.0" font-family="Liberation Serif" font-size="33" font-weight="bold" text-anchor="start" textLength="167.0" lengthAdjust="spacingAndGlyphs">Tube AB49-1</text>
<text x="715.0" y="159.2" font-family="Liberation Serif" font-size="33" font-weight="bold" text-anchor="start" textLength="279.5" lengthAdjust="spacingAndGlyphs">Light grey precipitate</text>
<rect x="800.4" y="196.1" width="321.19999999999993" height="325.4" fill="none" stroke="#141414" stroke-width="2.5"/>
<line x1="806.8" y1="209.8" x2="1120.8" y2="209.8" stroke="#202020" stroke-width="2.00"/>
<line x1="806.8" y1="253.3" x2="1120.8" y2="253.3" stroke="#202020" stroke-width="2.00"/>
<line x1="806.8" y1="296.5" x2="1120.8" y2="296.5" stroke="#202020" stroke-width="2.00"/>
<line x1="806.8" y1="340.0" x2="1120.8" y2="340.0" stroke="#202020" stroke-width="2.00"/>
<line x1="806.8" y1="383.7" x2="1120.8" y2="383.7" stroke="#202020" stroke-width="2.00"/>
<line x1="806.8" y1="427.7" x2="1120.8" y2="427.7" stroke="#202020" stroke-width="2.00"/>
<line x1="806.8" y1="471.3" x2="1120.8" y2="471.3" stroke="#202020" stroke-width="2.00"/>
<line x1="806.8" y1="209.8" x2="806.8" y2="507.8" stroke="#202020" stroke-width="2.00"/>
<line x1="893.8" y1="209.8" x2="893.8" y2="507.8" stroke="#202020" stroke-width="2.00"/>
<line x1="1014.4" y1="209.8" x2="1014.4" y2="507.8" stroke="#202020" stroke-width="2.00"/>
<line x1="1120.8" y1="209.8" x2="1120.8" y2="507.8" stroke="#202020" stroke-width="2.00"/>
<text x="825.4" y="243.8" font-family="Liberation Serif" font-size="35.8" font-weight="normal" text-anchor="start" class="tb">Elt.</text>
<text x="914.3" y="243.8" font-family="Liberation Serif" font-size="35.8" font-weight="normal" text-anchor="start" class="tb">Wt.%</text>
<text x="1032.7" y="243.8" font-family="Liberation Serif" font-size="35.8" font-weight="normal" text-anchor="start" class="tb">At.%</text>
<text x="825.4" y="285.7" font-family="Liberation Serif" font-size="35.8" font-weight="normal" text-anchor="start" class="tb">Si</text>
<text x="914.3" y="285.7" font-family="Liberation Serif" font-size="35.8" font-weight="normal" text-anchor="start" class="tb">1.45</text>
<text x="1032.7" y="285.7" font-family="Liberation Serif" font-size="35.8" font-weight="normal" text-anchor="start" class="tb">3.11</text>
<text x="825.4" y="330.2" font-family="Liberation Serif" font-size="35.8" font-weight="normal" text-anchor="start" class="tb">Ti</text>
<text x="914.3" y="330.2" font-family="Liberation Serif" font-size="35.8" font-weight="normal" text-anchor="start" class="tb">0.16</text>
<text x="1032.7" y="330.2" font-family="Liberation Serif" font-size="35.8" font-weight="normal" text-anchor="start" class="tb">0.19</text>
<text x="825.4" y="374.2" font-family="Liberation Serif" font-size="35.8" font-weight="normal" text-anchor="start" class="tb">Cr</text>
<text x="914.3" y="374.2" font-family="Liberation Serif" font-size="35.8" font-weight="normal" text-anchor="start" class="tb">17.83</text>
<text x="1032.7" y="374.2" font-family="Liberation Serif" font-size="35.8" font-weight="normal" text-anchor="start" class="tb">20.55</text>
<text x="825.4" y="417.0" font-family="Liberation Serif" font-size="35.8" font-weight="normal" text-anchor="start" class="tb">Fe</text>
<text x="914.3" y="417.0" font-family="Liberation Serif" font-size="35.8" font-weight="normal" text-anchor="start" class="tb">28.34</text>
<text x="1032.7" y="417.0" font-family="Liberation Serif" font-size="35.8" font-weight="normal" text-anchor="start" class="tb">30.42</text>
<text x="825.4" y="461.0" font-family="Liberation Serif" font-size="35.8" font-weight="normal" text-anchor="start" class="tb">Ni</text>
<text x="914.3" y="461.0" font-family="Liberation Serif" font-size="35.8" font-weight="normal" text-anchor="start" class="tb">32.01</text>
<text x="1032.7" y="461.0" font-family="Liberation Serif" font-size="35.8" font-weight="normal" text-anchor="start" class="tb">32.68</text>
<text x="825.4" y="504.6" font-family="Liberation Serif" font-size="35.8" font-weight="normal" text-anchor="start" class="tb">Nb</text>
<text x="914.3" y="504.6" font-family="Liberation Serif" font-size="35.8" font-weight="normal" text-anchor="start" class="tb">20.21</text>
<text x="1032.7" y="504.6" font-family="Liberation Serif" font-size="35.8" font-weight="normal" text-anchor="start" class="tb">13.04</text>
</g><g filter="url(#soft)">
<line x1="83.0" y1="956.0" x2="1131.6" y2="956.0" stroke="#141414" stroke-width="2.50"/>
<line x1="1130.4" y1="956.0" x2="1130.4" y2="1879.2" stroke="#141414" stroke-width="2.70"/>
<line x1="72.0" y1="1878.0" x2="1131.6" y2="1878.0" stroke="#141414" stroke-width="2.40"/>
<line x1="91.0" y1="956.0" x2="91.0" y2="1878.0" stroke="#141414" stroke-width="2.90"/>
<line x1="100.4" y1="956.0" x2="100.4" y2="1878.0" stroke="#141414" stroke-width="2.70"/>
<line x1="70.8" y1="1878.0" x2="91.0" y2="1878.0" stroke="#141414" stroke-width="2.60"/>
<line x1="82.8" y1="1823.2" x2="91.0" y2="1823.2" stroke="#141414" stroke-width="2.50"/>
<line x1="82.8" y1="1768.3" x2="91.0" y2="1768.3" stroke="#141414" stroke-width="2.50"/>
<line x1="82.8" y1="1713.5" x2="91.0" y2="1713.5" stroke="#141414" stroke-width="2.50"/>
<line x1="82.8" y1="1658.6" x2="91.0" y2="1658.6" stroke="#141414" stroke-width="2.50"/>
<line x1="70.8" y1="1602.8" x2="91.0" y2="1602.8" stroke="#141414" stroke-width="2.60"/>
<line x1="82.8" y1="1548.9" x2="91.0" y2="1548.9" stroke="#141414" stroke-width="2.50"/>
<line x1="82.8" y1="1494.0" x2="91.0" y2="1494.0" stroke="#141414" stroke-width="2.50"/>
<line x1="82.8" y1="1439.2" x2="91.0" y2="1439.2" stroke="#141414" stroke-width="2.50"/>
<line x1="82.8" y1="1383.2" x2="91.0" y2="1383.2" stroke="#141414" stroke-width="2.50"/>
<line x1="70.8" y1="1330.3" x2="91.0" y2="1330.3" stroke="#141414" stroke-width="2.60"/>
<line x1="82.8" y1="1274.6" x2="91.0" y2="1274.6" stroke="#141414" stroke-width="2.50"/>
<line x1="82.8" y1="1219.0" x2="91.0" y2="1219.0" stroke="#141414" stroke-width="2.50"/>
<line x1="82.8" y1="1163.5" x2="91.0" y2="1163.5" stroke="#141414" stroke-width="2.50"/>
<line x1="82.8" y1="1111.2" x2="91.0" y2="1111.2" stroke="#141414" stroke-width="2.50"/>
<line x1="70.8" y1="1055.4" x2="91.0" y2="1055.4" stroke="#141414" stroke-width="2.60"/>
<line x1="82.8" y1="998.6" x2="91.0" y2="998.6" stroke="#141414" stroke-width="2.50"/>
<clipPath id="c3"><rect x="16.79" y="1028.80" width="53.75" height="29.45"/><rect x="24.77" y="1057.75" width="2.70" height="7.05"/><rect x="31.53" y="1057.75" width="39.82" height="8.05"/></clipPath>
<text x="19.8" y="1062.3" font-family="Liberation Sans" font-size="33.5" font-weight="normal" text-anchor="start" textLength="47.8" lengthAdjust="spacingAndGlyphs" class="ax" clip-path="url(#c3)">1500</text>
<clipPath id="c4"><rect x="16.79" y="1301.20" width="53.65" height="29.45"/><rect x="24.76" y="1330.15" width="2.70" height="7.05"/><rect x="31.50" y="1330.15" width="39.74" height="8.05"/></clipPath>
<text x="19.8" y="1334.7" font-family="Liberation Sans" font-size="33.5" font-weight="normal" text-anchor="start" textLength="47.6" lengthAdjust="spacingAndGlyphs" class="ax" clip-path="url(#c4)">1000</text>
<text x="31.5" y="1609.4" font-family="Liberation Sans" font-size="33.5" font-weight="normal" text-anchor="start" textLength="35.9" lengthAdjust="spacingAndGlyphs" class="ax">500</text>
<text x="55.2" y="1884.3" font-family="Liberation Sans" font-size="33.5" font-weight="normal" text-anchor="start" textLength="12.4" lengthAdjust="spacingAndGlyphs" class="ax">0</text>
<line x1="91.0" y1="1878.0" x2="91.0" y2="1893.0" stroke="#141414" stroke-width="2.70"/>
<line x1="193.2" y1="1878.0" x2="193.2" y2="1886.7" stroke="#141414" stroke-width="2.50"/>
<line x1="293.8" y1="1878.0" x2="293.8" y2="1886.7" stroke="#141414" stroke-width="2.50"/>
<line x1="396.8" y1="1878.0" x2="396.8" y2="1886.7" stroke="#141414" stroke-width="2.50"/>
<line x1="496.7" y1="1878.0" x2="496.7" y2="1886.7" stroke="#141414" stroke-width="2.50"/>
<line x1="600.3" y1="1878.0" x2="600.3" y2="1896.0" stroke="#141414" stroke-width="2.50"/>
<line x1="700.8" y1="1878.0" x2="700.8" y2="1886.7" stroke="#141414" stroke-width="2.50"/>
<line x1="803.3" y1="1878.0" x2="803.3" y2="1886.7" stroke="#141414" stroke-width="2.50"/>
<line x1="903.8" y1="1878.0" x2="903.8" y2="1886.7" stroke="#141414" stroke-width="2.50"/>
<line x1="1006.7" y1="1878.0" x2="1006.7" y2="1886.7" stroke="#141414" stroke-width="2.50"/>
<line x1="1107.3" y1="1878.0" x2="1107.3" y2="1896.0" stroke="#141414" stroke-width="2.50"/>
<text x="82.0" y="1914.8" font-family="Liberation Sans" font-size="33.5" font-weight="normal" text-anchor="start" textLength="11.5" lengthAdjust="spacingAndGlyphs" class="ax">0</text>
<text x="590.9" y="1914.8" font-family="Liberation Sans" font-size="33.5" font-weight="normal" text-anchor="start" textLength="12.3" lengthAdjust="spacingAndGlyphs" class="ax">5</text>
<clipPath id="c5"><rect x="1089.43" y="1881.20" width="30.81" height="29.45"/><rect x="1097.60" y="1910.15" width="2.81" height="7.05"/><rect x="1104.63" y="1910.15" width="16.41" height="8.05"/></clipPath>
<text x="1092.4" y="1914.7" font-family="Liberation Sans" font-size="33.5" font-weight="normal" text-anchor="start" textLength="24.8" lengthAdjust="spacingAndGlyphs" class="ax" clip-path="url(#c5)">10</text>
<text x="1139.3" y="1868.9" font-family="Liberation Sans" font-size="31.0" font-weight="bold" text-anchor="start" textLength="40.1" lengthAdjust="spacingAndGlyphs" class="ax3">keV</text>
<polyline points="94.0,1876.0 96.0,1874.5 100.5,1874.5" fill="none" stroke="#141414" stroke-width="2.3" stroke-linejoin="miter" stroke-linecap="butt"/>
<polyline points="108.0,1876.5 112.0,1875.5 116.0,1873.5 120.0,1872.0 123.0,1869.0 125.5,1867.0 128.0,1864.5 130.5,1863.0 132.5,1865.0 134.5,1862.5 137.0,1864.6 139.0,1867.0 141.0,1864.0 144.0,1868.8 144.0,1876.0 144.5,1869.0 147.0,1870.5 150.0,1870.0 153.0,1871.0 156.0,1870.0 159.0,1870.5 159.0,1876.0 159.5,1870.5 163.0,1870.0 166.0,1871.0 169.0,1869.0" fill="none" stroke="#141414" stroke-width="2.5" stroke-linejoin="miter" stroke-linecap="butt"/>
<polyline points="169.0,1869.8 171.4,1870.5 173.8,1870.9 176.2,1871.8 178.6,1870.5 181.0,1871.7 183.4,1866.0 185.8,1868.8 188.2,1871.8 190.6,1870.0 193.0,1871.6 195.4,1866.5 197.8,1868.8 200.2,1863.0 202.6,1867.4 205.0,1875.0 207.4,1869.3 209.8,1869.5 212.2,1865.9 214.6,1867.2 217.0,1867.6 219.4,1862.0 221.8,1871.7 224.2,1870.7 226.6,1866.8 229.0,1870.9 231.4,1863.0 233.8,1866.7 236.2,1874.0 238.6,1858.0 241.0,1864.0 243.4,1869.8 245.8,1866.6 248.2,1875.0 250.6,1865.8" fill="none" stroke="#141414" stroke-width="2.5999999999999996" stroke-linejoin="miter" stroke-linecap="butt"/>
<polyline points="170.2,1869.6 172.6,1871.1 175.0,1871.9 177.4,1868.4 179.8,1870.9 182.2,1870.6 184.6,1870.3 187.0,1867.5 189.4,1867.0 191.8,1868.9 194.2,1870.8 196.6,1868.2 199.0,1869.5 201.4,1868.6 203.8,1871.3 206.2,1871.8 208.6,1869.0 211.0,1872.1 213.4,1867.2 215.8,1871.1 218.2,1871.5 220.6,1867.7 223.0,1870.6 225.4,1869.8 227.8,1871.9 230.2,1868.0 232.6,1869.7 235.0,1871.5 237.4,1870.2 239.8,1868.5 242.2,1867.3 244.6,1871.8 247.0,1869.4 249.4,1872.1" fill="none" stroke="#141414" stroke-width="2.3" stroke-linejoin="miter" stroke-linecap="butt"/>
<rect x="126" y="1863.5" width="14" height="4" fill="#141414" opacity="0.8"/>
<polyline points="252.0,1872.0 254.0,1866.0 256.0,1871.0 258.0,1862.0 260.0,1868.0 262.0,1850.0 263.2,1866.0 264.5,1848.0 266.5,1833.0 267.6,1850.0 269.0,1838.0 270.5,1846.0 272.9,1840.5 274.3,1832.0 275.6,1835.0 275.6,1818.7 277.0,1822.0 278.3,1798.7 279.5,1812.0 280.8,1794.0 282.0,1812.0 283.3,1791.0 284.7,1817.0 286.0,1796.0 287.5,1806.0 289.0,1790.0 290.2,1802.0 291.3,1784.0 292.5,1798.0 293.8,1782.0" fill="none" stroke="#141414" stroke-width="2.4" stroke-linejoin="miter" stroke-linecap="butt"/>
<rect x="259" y="1850" width="8" height="16" fill="#141414" opacity="0.85"/>
<polyline points="293.8,1782.0 293.8,1729.0 296.5,1726.0 296.5,1637.0 298.7,1634.0 298.7,1524.0 300.9,1521.0 300.9,1269.5 303.3,1266.5 303.3,1085.0 306.0,1082.0 306.0,1028.0 307.4,1026.0 308.0,1013.9 308.7,1043.0 310.3,1045.0 310.3,1145.0 312.7,1148.0 312.7,1266.5 315.0,1269.5 315.0,1408.0 317.3,1411.0 317.3,1478.0 320.0,1481.0 320.0,1580.0 321.7,1583.0 321.7,1668.0 324.4,1671.0 324.4,1750.0 326.6,1753.0 326.6,1797.0 329.3,1800.0 329.3,1818.0 332.0,1838.7 334.8,1855.0 338.4,1866.0 341.2,1875.0" fill="none" stroke="#141414" stroke-width="2.35" stroke-linejoin="miter" stroke-linecap="butt"/>
<polyline points="307.2,1027.0 307.6,1044.0" fill="none" stroke="#141414" stroke-width="3.2" stroke-linejoin="miter" stroke-linecap="butt"/>
<line x1="310.2" y1="1862.0" x2="310.2" y2="1877.0" stroke="#141414" stroke-width="2.30"/>
<polyline points="342.5,1870.0 344.9,1864.0 347.3,1877.5 349.7,1873.8 352.1,1877.5 354.5,1876.9 356.9,1866.0 359.3,1857.8 361.7,1866.0 364.1,1876.7 366.5,1877.5 368.9,1867.9 371.3,1872.6 373.7,1874.6 376.1,1877.5 378.5,1871.8 380.9,1873.2 383.3,1869.4 385.7,1872.0 388.1,1874.0 390.5,1877.5 392.9,1874.9 395.3,1873.8 397.7,1873.3 400.1,1877.0 402.5,1871.4 404.9,1877.5 407.3,1877.5 409.7,1874.0 412.1,1876.1 414.5,1876.3 416.9,1871.8 419.3,1877.5 421.7,1871.7 424.1,1871.2 426.5,1874.3 428.9,1873.8 431.3,1877.0 433.7,1877.4 436.1,1877.5 438.5,1872.8 440.9,1871.5 443.3,1874.3 445.7,1872.1 448.1,1869.3 450.5,1877.5 452.9,1875.0 455.3,1869.9 457.7,1877.5 460.1,1877.5 462.5,1874.3 464.9,1876.6 467.3,1870.3 469.7,1876.0 472.1,1871.4 474.5,1872.8 476.9,1872.8 479.3,1873.3 481.7,1876.3 484.1,1871.9 486.5,1874.2 488.9,1877.3 491.3,1876.0 493.7,1871.1 496.1,1869.0 498.5,1877.5 500.9,1865.0 503.3,1874.1 505.7,1876.7 508.1,1875.0 510.5,1877.5 512.9,1875.7 515.3,1877.1 517.7,1876.8 520.1,1877.0 522.5,1877.5 524.9,1872.7" fill="none" stroke="#141414" stroke-width="2.5" stroke-linejoin="miter" stroke-linecap="butt"/>
<polygon points="342.5,1878.0 342.5,1872.9 344.9,1872.9 347.3,1877.5 349.7,1873.8 352.1,1877.5 354.5,1876.9 356.9,1872.9 359.3,1872.9 361.7,1872.9 364.1,1876.7 366.5,1877.5 368.9,1872.9 371.3,1872.9 373.7,1874.6 376.1,1877.5 378.5,1872.9 380.9,1873.2 383.3,1872.9 385.7,1872.9 388.1,1874.0 390.5,1877.5 392.9,1874.9 395.3,1873.8 397.7,1873.3 400.1,1877.0 402.5,1872.9 404.9,1877.5 407.3,1877.5 409.7,1874.0 412.1,1876.1 414.5,1876.3 416.9,1872.9 419.3,1877.5 421.7,1872.9 424.1,1872.9 426.5,1874.3 428.9,1873.8 431.3,1877.0 433.7,1877.4 436.1,1877.5 438.5,1872.9 440.9,1872.9 443.3,1874.3 445.7,1872.9 448.1,1872.9 450.5,1877.5 452.9,1875.0 455.3,1872.9 457.7,1877.5 460.1,1877.5 462.5,1874.3 464.9,1876.6 467.3,1872.9 469.7,1876.0 472.1,1872.9 474.5,1872.9 476.9,1872.9 479.3,1873.3 481.7,1876.3 484.1,1872.9 486.5,1874.2 488.9,1877.3 491.3,1876.0 493.7,1872.9 496.1,1872.9 498.5,1877.5 500.9,1872.9 503.3,1874.1 505.7,1876.7 508.1,1875.0 510.5,1877.5 512.9,1875.7 515.3,1877.1 517.7,1876.8 520.1,1877.0 522.5,1877.5 524.9,1872.9 524.9,1878.0" fill="#141414"/>
<polyline points="526.3,1875.0 529.5,1864.0 532.7,1847.0 532.7,1823.0 534.8,1820.0 534.8,1746.0 537.0,1743.0 537.0,1688.5 539.5,1685.5 539.5,1609.5 542.3,1606.5 542.3,1562.0 543.7,1559.0 544.4,1518.4 545.3,1520.0 545.8,1560.0 547.2,1563.0 549.3,1566.0 549.3,1636.5 551.9,1639.5 551.9,1717.5 554.0,1720.5 554.0,1777.0 556.6,1780.0 556.6,1820.0 558.7,1823.0 558.7,1855.7 561.5,1870.6 564.7,1876.0" fill="none" stroke="#141414" stroke-width="2.35" stroke-linejoin="miter" stroke-linecap="butt"/>
<polyline points="544.9,1519.0 544.9,1561.0" fill="none" stroke="#141414" stroke-width="3.0" stroke-linejoin="miter" stroke-linecap="butt"/>
<polyline points="566.5,1876.0 569.0,1874.0 571.0,1876.0 573.2,1870.6 575.5,1868.0 577.5,1864.0 579.5,1858.0 581.8,1847.0 583.5,1843.0 585.0,1840.7 586.5,1832.0 588.0,1842.0 589.3,1840.7 591.5,1845.0 593.5,1849.0 595.0,1856.0 596.7,1862.0 598.5,1868.0 600.0,1873.8 602.0,1876.0" fill="none" stroke="#141414" stroke-width="2.4" stroke-linejoin="miter" stroke-linecap="butt"/>
<polyline points="602.0,1877.0 604.4,1876.5 606.8,1877.5 609.2,1877.5 611.6,1876.9 614.0,1872.5 616.4,1873.7" fill="none" stroke="#141414" stroke-width="2.3" stroke-linejoin="miter" stroke-linecap="butt"/>
<polygon points="602.0,1878.0 602.0,1877.0 604.4,1876.5 606.8,1877.5 609.2,1877.5 611.6,1876.9 614.0,1872.9 616.4,1873.7 616.4,1878.0" fill="#141414"/>
<polyline points="618.0,1876.5 621.3,1870.6 623.4,1857.8 626.6,1838.6 628.7,1813.0 630.4,1810.0 630.4,1776.0 633.0,1766.0 634.6,1762.0 636.2,1746.8 637.2,1764.0 638.3,1766.0 640.5,1783.0 643.7,1802.3 646.9,1821.5 649.0,1847.0 651.2,1864.0 654.4,1875.0" fill="none" stroke="#141414" stroke-width="2.35" stroke-linejoin="miter" stroke-linecap="butt"/>
<polyline points="635.9,1748.0 636.2,1768.0" fill="none" stroke="#141414" stroke-width="3.0" stroke-linejoin="miter" stroke-linecap="butt"/>
<polyline points="655.0,1877.5 657.4,1877.5 659.8,1877.4 662.2,1873.1 664.6,1874.2 667.0,1875.7 669.4,1877.5 671.8,1877.1 674.2,1873.8 676.6,1874.0" fill="none" stroke="#141414" stroke-width="2.3" stroke-linejoin="miter" stroke-linecap="butt"/>
<polygon points="655.0,1878.0 655.0,1877.5 657.4,1877.5 659.8,1877.4 662.2,1873.1 664.6,1874.2 667.0,1875.7 669.4,1877.5 671.8,1877.1 674.2,1873.8 676.6,1874.0 676.6,1878.0" fill="#141414"/>
<polyline points="677.0,1876.0 679.0,1868.0 681.0,1861.0 682.5,1868.0 684.0,1858.0 686.0,1864.0 688.7,1854.0 690.5,1862.0 692.0,1858.0 693.8,1866.0 695.5,1861.0 697.5,1869.0 699.0,1864.0 700.5,1875.0 702.0,1868.0 704.0,1876.0" fill="none" stroke="#141414" stroke-width="2.4" stroke-linejoin="miter" stroke-linecap="butt"/>
<polyline points="704.5,1874.0 706.9,1875.9 709.3,1877.5 711.7,1876.0 714.1,1876.5 716.5,1876.9 718.9,1874.5" fill="none" stroke="#141414" stroke-width="2.3" stroke-linejoin="miter" stroke-linecap="butt"/>
<polygon points="704.5,1878.0 704.5,1874.0 706.9,1875.9 709.3,1877.5 711.7,1876.0 714.1,1876.5 716.5,1876.9 718.9,1874.5 718.9,1878.0" fill="#141414"/>
<polyline points="719.0,1876.5 721.5,1871.0 724.0,1866.0 725.7,1861.0 727.4,1856.0 729.0,1848.0 730.8,1839.0 732.3,1834.0 733.6,1838.0 735.4,1819.8 736.4,1820.0 737.2,1832.0 738.6,1830.0 740.0,1835.8 742.0,1845.0 744.3,1849.0 746.0,1858.0 747.6,1864.4 749.5,1870.0 751.0,1874.5" fill="none" stroke="#141414" stroke-width="2.35" stroke-linejoin="miter" stroke-linecap="butt"/>
<polyline points="752.0,1877.5 754.4,1877.5 756.8,1875.7 759.2,1877.4 761.6,1877.5 764.0,1877.5 766.4,1876.2 768.8,1877.3 771.2,1875.1 773.6,1875.4 776.0,1877.5 778.4,1873.6 780.8,1877.5 783.2,1876.7 785.6,1877.2 788.0,1875.1 790.4,1877.5 792.8,1877.4" fill="none" stroke="#141414" stroke-width="2.3" stroke-linejoin="miter" stroke-linecap="butt"/>
<polygon points="752.0,1878.0 752.0,1877.5 754.4,1877.5 756.8,1875.7 759.2,1877.4 761.6,1877.5 764.0,1877.5 766.4,1876.2 768.8,1877.3 771.2,1875.1 773.6,1875.4 776.0,1877.5 778.4,1873.6 780.8,1877.5 783.2,1876.7 785.6,1877.2 788.0,1875.1 790.4,1877.5 792.8,1877.4 792.8,1878.0" fill="#141414"/>
<polyline points="794.8,1876.0 797.0,1870.0 799.0,1873.0 801.0,1869.0 803.0,1872.0 804.0,1867.0 805.5,1872.0 807.0,1870.0 808.5,1876.0" fill="none" stroke="#141414" stroke-width="2.3" stroke-linejoin="miter" stroke-linecap="butt"/>
<polyline points="809.0,1877.0 811.4,1877.3 813.8,1877.4 816.2,1872.5 818.6,1875.0 821.0,1876.1" fill="none" stroke="#141414" stroke-width="2.3" stroke-linejoin="miter" stroke-linecap="butt"/>
<polygon points="809.0,1878.0 809.0,1877.0 811.4,1877.3 813.8,1877.4 816.2,1872.9 818.6,1875.0 821.0,1876.1 821.0,1878.0" fill="#141414"/>
<polyline points="823.7,1876.0 826.0,1873.0 828.5,1875.0 831.0,1871.0 833.8,1871.0 836.0,1867.0 838.8,1866.0 840.5,1862.0 842.2,1859.3 844.0,1855.0 845.6,1851.8 847.5,1856.0 850.6,1861.0 853.0,1865.0 855.7,1867.7 857.5,1871.0 859.0,1872.8 861.5,1875.0 864.0,1870.0 866.0,1876.0" fill="none" stroke="#141414" stroke-width="2.4" stroke-linejoin="miter" stroke-linecap="butt"/>
<polygon points="834,1871 842.2,1859.5 845.6,1853 844,1862 838,1869" fill="#141414" opacity="0.8"/>
<polyline points="884.0,1876.0 886.4,1877.3 888.8,1877.5 891.2,1877.5 893.6,1875.6 896.0,1877.5 898.4,1874.7 900.8,1877.5 903.2,1877.5 905.6,1875.8 908.0,1875.3" fill="none" stroke="#141414" stroke-width="2.3" stroke-linejoin="miter" stroke-linecap="butt"/>
<polygon points="884.0,1878.0 884.0,1876.0 886.4,1877.3 888.8,1877.5 891.2,1877.5 893.6,1875.6 896.0,1877.5 898.4,1874.7 900.8,1877.5 903.2,1877.5 905.6,1875.8 908.0,1875.3 908.0,1878.0" fill="#141414"/>
<polyline points="914.6,1874.3 917.0,1874.2 919.4,1872.5 921.8,1877.5 924.2,1874.6 926.6,1875.9 929.0,1877.5 931.4,1872.2 933.8,1875.3 936.2,1873.6 938.6,1873.5 941.0,1876.3" fill="none" stroke="#141414" stroke-width="2.5" stroke-linejoin="miter" stroke-linecap="butt"/>
<polygon points="914.6,1878.0 914.6,1874.3 917.0,1874.2 919.4,1872.9 921.8,1877.5 924.2,1874.6 926.6,1875.9 929.0,1877.5 931.4,1872.9 933.8,1875.3 936.2,1873.6 938.6,1873.5 941.0,1876.3 941.0,1878.0" fill="#141414"/>
<polyline points="953.0,1876.5 955.8,1872.0 958.0,1876.5" fill="none" stroke="#141414" stroke-width="2.3" stroke-linejoin="miter" stroke-linecap="butt"/>
</g><g filter="url(#soft3)">
<text x="277.9" y="1006.1" font-family="Liberation Sans" font-size="35.0" font-weight="normal" text-anchor="start" textLength="69.0" lengthAdjust="spacingAndGlyphs" class="lb">NbL</text>
<text x="339.6" y="1006.1" font-family="Liberation Sans" font-size="28.0" font-weight="normal" text-anchor="start" textLength="20.2" lengthAdjust="spacingAndGlyphs" class="lb">α</text>
<text x="146.2" y="1629.3" font-family="Liberation Sans" font-size="33.5" font-weight="normal" text-anchor="start" textLength="52.6" lengthAdjust="spacingAndGlyphs" class="lb">NiL</text>
<text x="209.2" y="1629.3" font-family="Liberation Sans" font-size="31.5" font-weight="normal" text-anchor="start" textLength="15.5" lengthAdjust="spacingAndGlyphs" class="lb">β</text>
<text x="144.8" y="1661.6" font-family="Liberation Sans" font-size="33.5" font-weight="normal" text-anchor="start" textLength="54.0" lengthAdjust="spacingAndGlyphs" class="lb">NiL</text>
<text x="205.8" y="1661.6" font-family="Liberation Sans" font-size="26.0" font-weight="normal" text-anchor="start" textLength="20.2" lengthAdjust="spacingAndGlyphs" class="lb">α</text>
<text x="130.2" y="1693.9" font-family="Liberation Sans" font-size="33.5" font-weight="normal" text-anchor="start" textLength="66.5" lengthAdjust="spacingAndGlyphs" class="lb">FeL</text>
<text x="195.2" y="1693.9" font-family="Liberation Sans" font-size="31.5" font-weight="normal" text-anchor="start" textLength="15.5" lengthAdjust="spacingAndGlyphs" class="lb">β</text>
<text x="130.3" y="1724.9" font-family="Liberation Sans" font-size="33.5" font-weight="normal" text-anchor="start" textLength="64.4" lengthAdjust="spacingAndGlyphs" class="lb">FeL</text>
<text x="190.6" y="1724.9" font-family="Liberation Sans" font-size="26.0" font-weight="normal" text-anchor="start" textLength="20.2" lengthAdjust="spacingAndGlyphs" class="lb">α</text>
<text x="120.1" y="1757.1" font-family="Liberation Sans" font-size="33.5" font-weight="normal" text-anchor="start" textLength="62.8" lengthAdjust="spacingAndGlyphs" class="lb">CrL</text>
<text x="181.4" y="1757.1" font-family="Liberation Sans" font-size="31.5" font-weight="normal" text-anchor="start" textLength="15.5" lengthAdjust="spacingAndGlyphs" class="lb">β</text>
<text x="118.2" y="1788.1" font-family="Liberation Sans" font-size="33.5" font-weight="normal" text-anchor="start" textLength="56.9" lengthAdjust="spacingAndGlyphs" class="lb">CrL</text>
<text x="179.3" y="1788.1" font-family="Liberation Sans" font-size="26.0" font-weight="normal" text-anchor="start" textLength="20.2" lengthAdjust="spacingAndGlyphs" class="lb">α</text>
<text x="105.2" y="1820.6" font-family="Liberation Sans" font-size="33.5" font-weight="normal" text-anchor="start" textLength="51.9" lengthAdjust="spacingAndGlyphs" class="lb">TiL</text>
<text x="167.4" y="1820.6" font-family="Liberation Sans" font-size="31.5" font-weight="normal" text-anchor="start" textLength="15.5" lengthAdjust="spacingAndGlyphs" class="lb">β</text>
<text x="105.2" y="1853.6" font-family="Liberation Sans" font-size="33.5" font-weight="normal" text-anchor="start" textLength="52.0" lengthAdjust="spacingAndGlyphs" class="lb">TiL</text>
<text x="164.1" y="1853.6" font-family="Liberation Sans" font-size="26.0" font-weight="normal" text-anchor="start" textLength="20.2" lengthAdjust="spacingAndGlyphs" class="lb">α</text>
<text x="287.4" y="1608.6" font-family="Liberation Sans" font-size="33.5" font-weight="normal" text-anchor="start" textLength="65.1" lengthAdjust="spacingAndGlyphs" class="lb">NbL</text>
<text x="351.2" y="1608.6" font-family="Liberation Sans" font-size="31.5" font-weight="normal" text-anchor="start" textLength="15.5" lengthAdjust="spacingAndGlyphs" class="lb">β</text>
<text x="236.7" y="1780.8" font-family="Liberation Sans" font-size="33.5" font-weight="normal" text-anchor="start" textLength="56.6" lengthAdjust="spacingAndGlyphs" class="lb">SiK</text>
<text x="295.8" y="1780.8" font-family="Liberation Sans" font-size="26.0" font-weight="normal" text-anchor="start" textLength="20.2" lengthAdjust="spacingAndGlyphs" class="lb">α</text>
<text x="246.2" y="1868.3" font-family="Liberation Sans" font-size="33.5" font-weight="normal" text-anchor="start" textLength="53.0" lengthAdjust="spacingAndGlyphs" class="lb">SiK</text>
<text x="306.4" y="1868.3" font-family="Liberation Sans" font-size="31.5" font-weight="normal" text-anchor="start" textLength="15.5" lengthAdjust="spacingAndGlyphs" class="lb">β</text>
<text x="517.0" y="1510.2" font-family="Liberation Sans" font-size="33.5" font-weight="normal" text-anchor="start" textLength="52.8" lengthAdjust="spacingAndGlyphs" class="lb">TiK</text>
<text x="577.6" y="1510.2" font-family="Liberation Sans" font-size="26.0" font-weight="normal" text-anchor="start" textLength="20.2" lengthAdjust="spacingAndGlyphs" class="lb">α</text>
<text x="607.6" y="1737.6" font-family="Liberation Sans" font-size="33.5" font-weight="normal" text-anchor="start" textLength="63.8" lengthAdjust="spacingAndGlyphs" class="lb">CrK</text>
<text x="668.3" y="1737.6" font-family="Liberation Sans" font-size="26.0" font-weight="normal" text-anchor="start" textLength="20.2" lengthAdjust="spacingAndGlyphs" class="lb">α</text>
<text x="559.7" y="1835.8" font-family="Liberation Sans" font-size="33.5" font-weight="normal" text-anchor="start" textLength="51.8" lengthAdjust="spacingAndGlyphs" class="lb">TiK</text>
<text x="622.7" y="1835.8" font-family="Liberation Sans" font-size="31.5" font-weight="normal" text-anchor="start" textLength="15.5" lengthAdjust="spacingAndGlyphs" class="lb">β</text>
<text x="665.0" y="1856.6" font-family="Liberation Sans" font-size="33.5" font-weight="normal" text-anchor="start" textLength="62.9" lengthAdjust="spacingAndGlyphs" class="lb">CrK</text>
<text x="727.4" y="1856.6" font-family="Liberation Sans" font-size="31.5" font-weight="normal" text-anchor="start" textLength="15.5" lengthAdjust="spacingAndGlyphs" class="lb">β</text>
<text x="708.1" y="1810.9" font-family="Liberation Sans" font-size="33.5" font-weight="normal" text-anchor="start" textLength="65.7" lengthAdjust="spacingAndGlyphs" class="lb">FeK</text>
<text x="770.6" y="1810.9" font-family="Liberation Sans" font-size="26.0" font-weight="normal" text-anchor="start" textLength="20.2" lengthAdjust="spacingAndGlyphs" class="lb">α</text>
<text x="776.1" y="1863.9" font-family="Liberation Sans" font-size="33.5" font-weight="normal" text-anchor="start" textLength="62.3" lengthAdjust="spacingAndGlyphs" class="lb">FeK</text>
<text x="837.9" y="1863.9" font-family="Liberation Sans" font-size="31.5" font-weight="normal" text-anchor="start" textLength="15.5" lengthAdjust="spacingAndGlyphs" class="lb">β</text>
<text x="817.1" y="1830.9" font-family="Liberation Sans" font-size="33.5" font-weight="normal" text-anchor="start" textLength="63.8" lengthAdjust="spacingAndGlyphs" class="lb">NiK</text>
<text x="877.8" y="1830.9" font-family="Liberation Sans" font-size="26.0" font-weight="normal" text-anchor="start" textLength="20.2" lengthAdjust="spacingAndGlyphs" class="lb">α</text>
<text x="897.7" y="1866.6" font-family="Liberation Sans" font-size="33.5" font-weight="normal" text-anchor="start" textLength="52.6" lengthAdjust="spacingAndGlyphs" class="lb">NiK</text>
<text x="961.6" y="1866.6" font-family="Liberation Sans" font-size="31.5" font-weight="normal" text-anchor="start" textLength="15.5" lengthAdjust="spacingAndGlyphs" class="lb">β</text>
</g><g filter="url(#soft2)">
<text x="638.6" y="1062.3" font-family="Liberation Serif" font-size="32.5" font-weight="bold" text-anchor="start" textLength="172.8" lengthAdjust="spacingAndGlyphs">Tube AB 49-1</text>
<text x="638.6" y="1102.3" font-family="Liberation Serif" font-size="32.5" font-weight="bold" text-anchor="start" textLength="333.2" lengthAdjust="spacingAndGlyphs">Darkest region in the light</text>
<text x="638.6" y="1141.8" font-family="Liberation Serif" font-size="32.5" font-weight="bold" text-anchor="start" textLength="198.7" lengthAdjust="spacingAndGlyphs">grey precipitate</text>
<rect x="740.0" y="1171.7" width="365.29999999999995" height="326.89999999999986" fill="none" stroke="#141414" stroke-width="2.5"/>
<line x1="747.9" y1="1186.3" x2="1082.8" y2="1186.3" stroke="#202020" stroke-width="2.00"/>
<line x1="747.9" y1="1229.0" x2="1082.8" y2="1229.0" stroke="#202020" stroke-width="2.00"/>
<line x1="747.9" y1="1272.6" x2="1082.8" y2="1272.6" stroke="#202020" stroke-width="2.00"/>
<line x1="747.9" y1="1316.0" x2="1082.8" y2="1316.0" stroke="#202020" stroke-width="2.00"/>
<line x1="747.9" y1="1360.0" x2="1082.8" y2="1360.0" stroke="#202020" stroke-width="2.00"/>
<line x1="747.9" y1="1403.6" x2="1082.8" y2="1403.6" stroke="#202020" stroke-width="2.00"/>
<line x1="747.9" y1="1447.3" x2="1082.8" y2="1447.3" stroke="#202020" stroke-width="2.00"/>
<line x1="747.9" y1="1186.3" x2="747.9" y2="1485.5" stroke="#202020" stroke-width="2.00"/>
<line x1="835.4" y1="1186.3" x2="835.4" y2="1485.5" stroke="#202020" stroke-width="2.00"/>
<line x1="956.7" y1="1186.3" x2="956.7" y2="1485.5" stroke="#202020" stroke-width="2.00"/>
<line x1="1082.8" y1="1186.3" x2="1082.8" y2="1485.5" stroke="#202020" stroke-width="2.00"/>
<text x="766.0" y="1220.5" font-family="Liberation Serif" font-size="35.8" font-weight="normal" text-anchor="start" class="tb">Elt.</text>
<text x="855.8" y="1220.5" font-family="Liberation Serif" font-size="35.8" font-weight="normal" text-anchor="start" class="tb">Wt.%</text>
<text x="975.0" y="1220.5" font-family="Liberation Serif" font-size="35.8" font-weight="normal" text-anchor="start" class="tb">At.%</text>
<text x="766.0" y="1262.3" font-family="Liberation Serif" font-size="35.8" font-weight="normal" text-anchor="start" class="tb">Si</text>
<text x="855.8" y="1262.3" font-family="Liberation Serif" font-size="35.8" font-weight="normal" text-anchor="start" class="tb">0.84</text>
<text x="975.0" y="1262.3" font-family="Liberation Serif" font-size="35.8" font-weight="normal" text-anchor="start" class="tb">1.91</text>
<text x="766.0" y="1306.4" font-family="Liberation Serif" font-size="35.8" font-weight="normal" text-anchor="start" class="tb">Ti</text>
<text x="855.8" y="1306.4" font-family="Liberation Serif" font-size="35.8" font-weight="normal" text-anchor="start" class="tb">26.49</text>
<text x="975.0" y="1306.4" font-family="Liberation Serif" font-size="35.8" font-weight="normal" text-anchor="start" class="tb">35.29</text>
<text x="766.0" y="1350.0" font-family="Liberation Serif" font-size="35.8" font-weight="normal" text-anchor="start" class="tb">Cr</text>
<text x="855.8" y="1350.0" font-family="Liberation Serif" font-size="35.8" font-weight="normal" text-anchor="start" class="tb">13.88</text>
<text x="975.0" y="1350.0" font-family="Liberation Serif" font-size="35.8" font-weight="normal" text-anchor="start" class="tb">17.04</text>
<text x="766.0" y="1394.0" font-family="Liberation Serif" font-size="35.8" font-weight="normal" text-anchor="start" class="tb">Fe</text>
<text x="855.8" y="1394.0" font-family="Liberation Serif" font-size="35.8" font-weight="normal" text-anchor="start" class="tb">7.23</text>
<text x="975.0" y="1394.0" font-family="Liberation Serif" font-size="35.8" font-weight="normal" text-anchor="start" class="tb">8.26</text>
<text x="766.0" y="1437.3" font-family="Liberation Serif" font-size="35.8" font-weight="normal" text-anchor="start" class="tb">Ni</text>
<text x="855.8" y="1437.3" font-family="Liberation Serif" font-size="35.8" font-weight="normal" text-anchor="start" class="tb">5.23</text>
<text x="975.0" y="1437.3" font-family="Liberation Serif" font-size="35.8" font-weight="normal" text-anchor="start" class="tb">5.68</text>
<text x="766.0" y="1480.5" font-family="Liberation Serif" font-size="35.8" font-weight="normal" text-anchor="start" class="tb">Nb</text>
<text x="855.8" y="1480.5" font-family="Liberation Serif" font-size="35.8" font-weight="normal" text-anchor="start" class="tb">46.33</text>
<text x="975.0" y="1480.5" font-family="Liberation Serif" font-size="35.8" font-weight="normal" text-anchor="start" class="tb">31.82</text>
</g>
</svg>
</body></html>
